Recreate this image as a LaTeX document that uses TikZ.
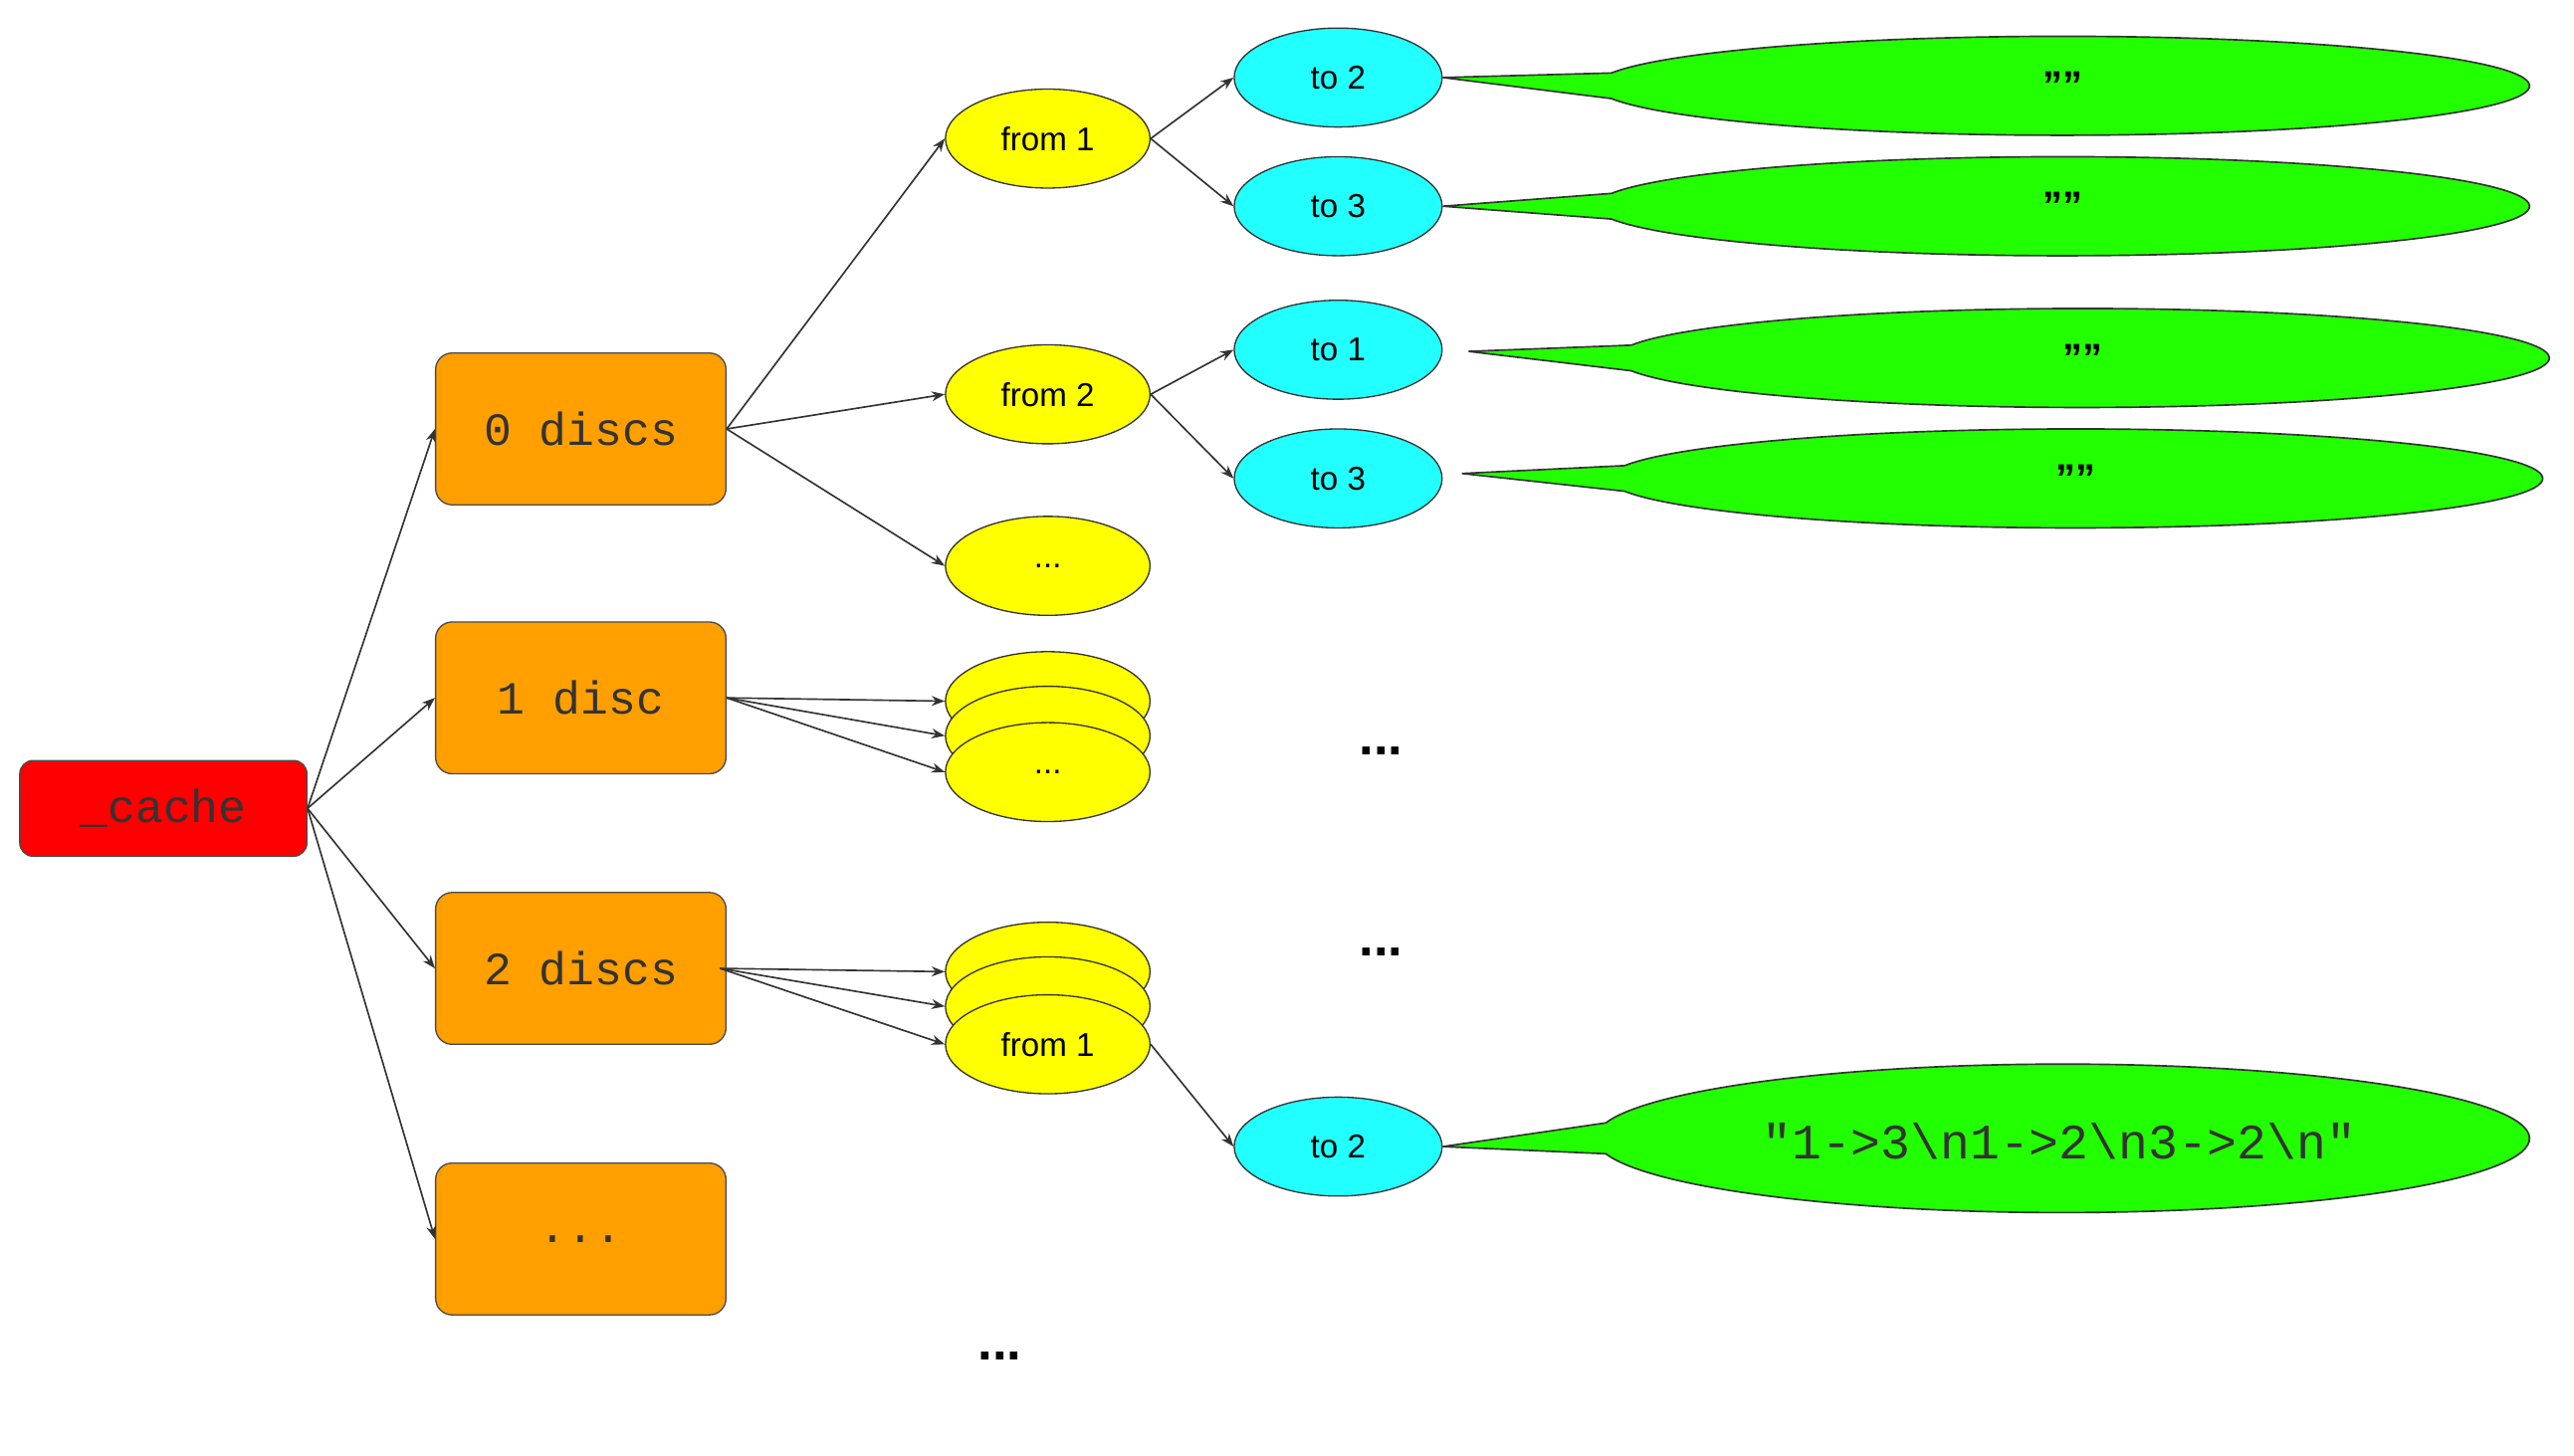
\documentclass[tikz,border=0pt]{standalone}
\usepackage{fontspec}
\setmainfont{Liberation Sans}
\newfontfamily\mono{Liberation Mono}
\usetikzlibrary{shapes.geometric,arrows.meta}
\definecolor{org}{HTML}{FF9F00}
\definecolor{yel}{HTML}{FFFF00}
\definecolor{cya}{HTML}{22FFFF}
\definecolor{grn}{HTML}{22FF00}
\definecolor{txt}{HTML}{333333}
\begin{document}
\begin{tikzpicture}[x=0.5pt,y=-0.5pt,
  box/.style={draw=black!70,fill=org,rounded corners=5pt,minimum width=88pt,minimum height=46pt,font=\mono\fontsize{14}{16}\selectfont,text=txt,inner sep=0pt},
  yl/.style={ellipse,draw=black!80,fill=yel,minimum width=62pt,minimum height=30pt,inner sep=0pt,font=\fontsize{10}{12}\selectfont},
  cy/.style={ellipse,draw=black!80,fill=cya,minimum width=63pt,minimum height=30pt,inner sep=0pt,font=\fontsize{10}{12}\selectfont},
  ar/.style={draw=black!80,line width=0.5pt,-{Stealth[length=4pt,width=3pt]}},
  gr/.style={draw=black!80,fill=grn,line width=0.5pt},
  dots/.style={font=\bfseries\fontsize{16}{16}\selectfont}]
\useasboundingbox (0,0) rectangle (1560,882);
\node[draw=black!70,fill=red,rounded corners=4pt,minimum width=87pt,minimum height=29pt,font=\mono\fontsize{14}{16}\selectfont,text=txt,inner sep=0pt] (cache) at (99,490) {\_cache};
\node[box] (b0) at (352,260) {0 discs};
\node[box] (b1) at (352,423) {1 disc};
\node[box] (b2) at (352,587) {2 discs};
\node[box] (b3) at (352,751) {...};
\node[yl] (f1) at (635,84) {from 1};
\node[yl] (f2) at (635,239) {from 2};
\node[yl] (fd) at (635,343) {...};
\node[yl] (s1a) at (635,425) {};
\node[yl] (s1b) at (635,446) {};
\node[yl] (s1c) at (635,468) {...};
\node[yl] (s2a) at (635,589) {};
\node[yl] (s2b) at (635,610) {};
\node[yl] (s2c) at (635,633) {from 1};
\node[cy] (t1) at (811,47) {to 2};
\node[cy] (t2) at (811,125) {to 3};
\node[cy] (t3) at (811,212) {to 1};
\node[cy] (t4) at (811,290) {to 3};
\node[cy] (t5) at (811,695) {to 2};
\node[dots] (d1) at (837,455) {...};
\node[dots] (d2) at (837,577) {...};
\node[dots] (d3) at (606,822) {...};
% callouts
\newcommand\callout[6]{% tip, cx, cy, rx, ry, text
 \path[gr] (#1) -- ($(#2,#3)+(165:#4 and #5)$) arc[start angle=165,end angle=-165,x radius=#4,y radius=#5] -- cycle;
 \node[font=\bfseries\fontsize{12}{12}\selectfont] at (#2,#3) {#6};}
\usetikzlibrary{calc}
\coordinate (p1) at (t1.east); \coordinate (p2) at (t2.east);
\coordinate (p3) at (890,213); \coordinate (p4) at (886,287);
\coordinate (p5) at (t5.east);
\callout{p1}{1250}{52}{283}{30}{""}
\callout{p2}{1250}{125}{283}{30}{""}
\callout{p3}{1262}{217}{283}{30}{""}
\callout{p4}{1258}{290}{283}{30}{""}
\path[gr] (p5) -- ($(1250,690)+(168:283 and 45)$) arc[start angle=168,end angle=-168,x radius=283,y radius=45] -- cycle;
\node[font=\mono\fontsize{15}{16}\selectfont,text=txt] (g5) at (1248,692) {"1->3\textbackslash n1->2\textbackslash n3->2\textbackslash n"};
% edges
\foreach \b in {b0,b1,b2,b3} \draw[ar] (cache.east) -- (\b.west);
\foreach \f in {f1,f2,fd} \draw[ar] (b0.east) -- (\f.west);
\foreach \f in {s1a,s1b,s1c} \draw[ar] (b1.east) -- (\f.west);
\foreach \f in {s2a,s2b,s2c} \draw[ar] ([xshift=-2pt]b2.east) -- (\f.west);
\draw[ar] (f1.east) -- (t1.west);
\draw[ar] (f1.east) -- (t2.west);
\draw[ar] (f2.east) -- (t3.west);
\draw[ar] (f2.east) -- (t4.west);
\draw[ar] (s2c.east) -- (t5.west);
\end{tikzpicture}
\end{document}
